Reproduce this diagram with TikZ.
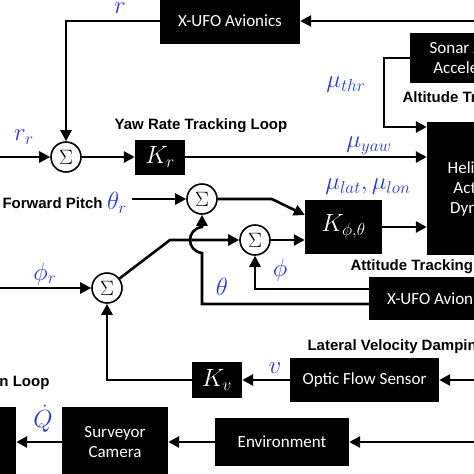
\documentclass[tikz,border=0pt]{standalone}
\usepackage{amsmath}
\usepackage{fontspec}
\usepackage{xcolor}
\usetikzlibrary{positioning,arrows.meta}
\newfontfamily\boxfont{Carlito}
\newfontfamily\loopfont{Liberation Sans}
\DeclareMathSizes{24}{24}{18}{14}
\definecolor{sigblue}{RGB}{40,60,205}
\tikzset{
    black-box/.style = {fill=black, text=white, inner sep=0pt, align=center, font=\boxfont\fontsize{17}{20}\selectfont},
    gain-box/.style = {fill=black, text=white, inner sep=0pt, font=\fontsize{24}{28}\selectfont},
    sum-node/.style = {circle, draw, line width=1.6pt, fill=white, minimum size=30pt, inner sep=0pt, font=\fontsize{21}{24}\selectfont},
    loop-title/.style = {font=\loopfont\bfseries\fontsize{15}{18}\selectfont},
    signal/.style = {text=sigblue, inner sep=0pt, font=\fontsize{24}{28}\selectfont},
    wire/.style = {line width=2.6pt, -{Triangle[length=11pt,width=11pt]}},
}

\begin{document}
\begin{tikzpicture}[x=1pt,y=-1pt]
\useasboundingbox (0,0) rectangle (474,474);
\clip (0,0) rectangle (474,474);

\node[black-box, minimum width=140pt, minimum height=46pt] (avionics-top) at (230,21) {X-UFO Avionics};
\node[sum-node] (sum-yaw) at (66,157) {$\Sigma$};
\node[gain-box, minimum width=50pt, minimum height=35pt] (gain-yaw) at (160,157) {$K_r$};
\node[black-box, minimum width=148pt, minimum height=50pt] (sonar) at (484,58) {Sonar Altimeter\\Accelerometer};
\node[black-box, minimum width=113pt, minimum height=133pt] (heli) at (483.5,188.5) {Helicopter\\Actuator\\Dynamics};
\node[sum-node] (sum-pitch) at (202,199) {$\Sigma$};
\node[sum-node] (sum-roll) at (255,240) {$\Sigma$};
\node[sum-node] (sum-lat) at (107,288) {$\Sigma$};
\node[gain-box, minimum width=77pt, minimum height=54pt] (gain-att) at (343.5,227) {$K_{\phi,\theta}$};
\node[black-box, minimum width=140pt, minimum height=43pt] (avionics-mid) at (439,298.5) {X-UFO Avionics};
\node[gain-box, minimum width=50pt, minimum height=36pt] (gain-vel) at (217,380) {$K_v$};
\node[black-box, minimum width=149pt, minimum height=44pt] (optic) at (364.5,380) {Optic Flow Sensor};
\node[black-box, minimum width=134pt, minimum height=48pt] (environment) at (282,442) {Environment};
\node[black-box, minimum width=106pt, minimum height=70pt] (camera) at (115,442) {Surveyor\\Camera};
\node[black-box, minimum width=36pt, minimum height=70pt] (nav) at (-2,442) {};

\node[loop-title] (title-yaw) at (201,126) {Yaw Rate Tracking Loop};
\node[loop-title, anchor=west] (title-alt) at (399,99) {Altitude Tracking Loop};
\node[loop-title, anchor=west] (title-pitch) at (-1,203) {Forward Pitch};
\node[loop-title, anchor=west] (title-att) at (347,267) {Attitude Tracking Loop};
\node[loop-title, anchor=west] (title-vel) at (304,347) {Lateral Velocity Damping Loop};
\node[loop-title, anchor=east] (title-nav) at (53,383) {Navigation Loop};

\node[signal] (lbl-rdot) at (120,5) {$\dot{r}$};
\node[signal] (lbl-rr) at (24,137) {$r_r$};
\node[signal] (lbl-thr) at (346,85) {$\mu_{thr}$};
\node[signal] (lbl-yaw) at (369,146) {$\mu_{yaw}$};
\node[signal] (lbl-thetar) at (117,203) {$\theta_r$};
\node[signal] (lbl-latlon) at (368,187) {$\mu_{lat},\mu_{lon}$};
\node[signal] (lbl-phir) at (45,274) {$\phi_r$};
\node[signal] (lbl-phi) at (280,270) {$\phi$};
\node[signal] (lbl-theta) at (222,287) {$\theta$};
\node[signal] (lbl-v) at (275,368) {$v$};
\node[signal] (lbl-qdot) at (43,419) {$\dot{Q}$};

\coordinate (in-avionics) at (480,21);
\coordinate (in-yaw) at (-5,157);
\coordinate (in-pitch) at (132,199);
\coordinate (in-roll) at (-5,288);
\coordinate (roll-bend) at (170,240);
\coordinate (hop-low) at (202,253);
\coordinate (hop-high) at (202,227);
\coordinate (in-optic) at (480,380);
\coordinate (in-env) at (480,442);

\draw[wire] (in-avionics) -- (avionics-top);
\draw[wire] (avionics-top.west) -| (sum-yaw.north);
\draw[wire] (in-yaw) -- (sum-yaw);
\draw[wire] (sum-yaw) -- (gain-yaw);
\draw[wire] (gain-yaw) -- (gain-yaw -| heli.west);
\draw[wire] (sonar.west) -- ++(-26,0) |- ([yshift=61.5pt]heli.west);

\draw[wire] (in-pitch) -- (sum-pitch);
\draw[wire] (sum-pitch.east) -- ++(54,0) -- ([yshift=12pt]gain-att.west);
\draw[wire] (gain-att) -- (gain-att -| heli.west);
\draw[wire] (sum-roll) -- (sum-roll -| gain-att.west);
\draw[wire] (in-roll) -- (sum-lat);
\draw[wire] (sum-lat) -- (roll-bend) -- (sum-roll.west);
\draw[wire] ([yshift=9.5pt]avionics-mid.west) -| (sum-roll.south);
\draw[wire] ([yshift=-5.5pt]avionics-mid.west) -| (hop-low) .. controls (186,251) and (186,229) .. (hop-high) -- (sum-pitch.south);

\draw[wire] (in-optic) -- (optic);
\draw[wire] (optic) -- (gain-vel);
\draw[wire] (gain-vel.west) -| (sum-lat.south);
\draw[wire] (in-env) -- (environment);
\draw[wire] (environment) -- (camera);
\draw[wire] (camera) -- (nav);
\end{tikzpicture}
\end{document}
